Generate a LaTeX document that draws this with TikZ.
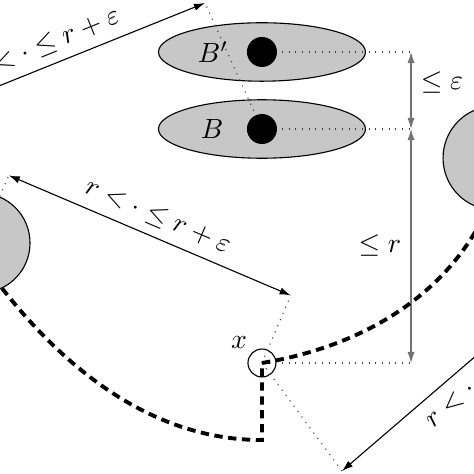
\documentclass[tikz,border=0pt]{standalone}
\usepackage{amsmath}
\usepackage{amssymb}
\usetikzlibrary{arrows.meta, positioning, calc, shapes.geometric}

\begin{document}
\begin{tikzpicture}[>={Latex[length=4pt,width=2.6pt]},
        sball/.style={circle, draw, fill=black!22, inner sep=0pt},
        ellset/.style={ellipse, draw, fill=black!22, inner sep=0pt, minimum width=2.62cm, minimum height=0.74cm},
        blackdot/.style={circle, fill=black, inner sep=0pt, minimum size=0.38cm},
        helper/.style={dotted, black!75},
        measure/.style={black!55},
        walk/.style={line width=1.4pt, dash pattern=on 3pt off 2pt}]

                        \useasboundingbox (0,0) rectangle (6,6);
                        \clip (0,0) rectangle (6,6);

                        % Sets B' and B with their points
                        \node (Bp) [ellset] at (3.316,5.342) {};
                        \node (B) [ellset] at (3.316,4.367) {};
                        \node (bplabel) at (2.696,5.342) {$B'$};
                        \node (blabel) at (2.684,4.367) {$B$};

                        % Balls on the left and on the right
                        \node (L) [sball, minimum size=1.266cm] at (-0.253,2.924) {};
                        \node (R) [sball, minimum size=1.316cm] at (6.266,4.0) {};

                        % The point x
                        \node (xc) [circle, draw, inner sep=0pt, minimum size=0.354cm, label={[inner sep=1.5pt]above left:$x$}] at (3.316,1.405) {};

                        % Ends of the measures
                        \coordinate (mtop) at (5.203,5.342);
                        \coordinate (mmid) at (5.203,4.367);
                        \coordinate (mbot) at (5.203,0 |- xc);
                        \coordinate (la) at ($(L)!0.93cm!90:(xc)$);
                        \coordinate (lb) at ($(xc)!0.93cm!-90:(L)$);
                        \coordinate (ta) at (-1.215,4.428);
                        \coordinate (tb) at (2.595,5.962);
                        \coordinate (ba) at (4.329,0.038);
                        \coordinate (bb) at (7.671,2.911);
                        \coordinate (xlow) at (3.316,0.430);

                        % Dotted helper lines
                        \draw[helper] (3.316,5.342) -- (mtop);
                        \draw[helper] (3.316,4.367) -- (mmid);
                        \draw[helper] (3.316,4.367) -- (tb);
                        \draw[helper] (xc.center) -- (mbot);
                        \draw[helper] (xc.center) -- (lb);
                        \draw[helper] (xc.center) -- (ba);
                        \draw[helper] (L) -- (la);

                        \node (bpdot) [blackdot] at (3.316,5.342) {};
                        \node (bdot) [blackdot] at (3.316,4.367) {};

                        % Measures
                        \draw[measure, <->] (mmid) -- (mtop) node[pos=.6, right, black] {$\leq \varepsilon$};
                        \draw[measure, <->] (mbot) -- (mmid) node[midway, left, black] {$\leq r$};
                        \draw[<->] (la) -- (lb) node[midway, above, sloped] {$r < \cdot \leq r+\varepsilon$};
                        \draw[<->] (ta) -- (tb) node[midway, above, sloped] {$r < \cdot \leq r+\varepsilon$};
                        \draw[<->] (ba) -- (bb) node[midway, below, sloped] {$r < \cdot \leq r+\varepsilon$};

                        % The dashed walk through x
                        \draw[walk] (L.-64) .. controls (1.139,0.937) and (2.278,0.430) .. (xlow) -- (xc.center)
                                .. controls (4.684,1.633) and (5.696,2.329) .. (R.261);

                \end{tikzpicture}
\end{document}
